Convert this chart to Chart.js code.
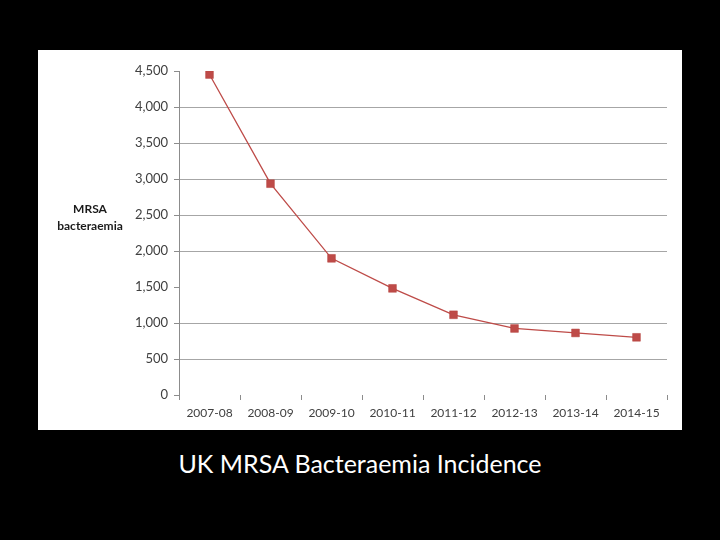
<!DOCTYPE html>
<html>
<head>
<meta charset="utf-8">
<script src="https://cdn.jsdelivr.net/npm/chart.js@4"></script>
<style>
  html, body { margin: 0; padding: 0; background: #000; width: 720px; height: 540px; overflow: hidden; }
  #box { position: absolute; left: 38px; top: 50px; width: 644px; height: 380px; background: #fff; }
  #caption { position: absolute; left: 0; width: 720px; top: 448px; text-align: center;
             color: #fff; font-family: Lato, "Open Sans", sans-serif; font-size: 25px; }
</style>
</head>
<body>
<div id="box"><canvas id="chart" width="644" height="380"></canvas></div>
<div id="caption">UK MRSA Bacteraemia Incidence</div>
<script>
// MRSA bacteraemia cases per financial year
const years = ['2007-08', '2008-09', '2009-10', '2010-11', '2011-12', '2012-13', '2013-14', '2014-15'];
const cases = [4451, 2935, 1898, 1481, 1114, 924, 862, 801];
const yTicks = [0, 500, 1000, 1500, 2000, 2500, 3000, 3500, 4000, 4500];

const font = { family: 'Lato, "Open Sans", sans-serif', size: 12 };

// horizontal title left of the axis
const yTitle = {
    id: 'yTitle',
    afterDraw(chart) {
        const ctx = chart.ctx;
        ctx.save();
        ctx.fillStyle = '#1a1a1a';
        ctx.textAlign = 'center';
        ctx.textBaseline = 'middle';
        ctx.font = 'bold 12px Lato, "Open Sans", sans-serif';
        ctx.fillText('MRSA', 52, 159);
        ctx.fillText('bacteraemia', 52, 176);
        ctx.restore();
    }
};

new Chart(document.getElementById('chart').getContext('2d'), {
    type: 'line',
    data: {
        labels: years,
        datasets: [{
            label: 'MRSA bacteraemia',
            data: cases,
            borderColor: '#be4b48',
            backgroundColor: '#be4b48',
            borderWidth: 1.3,
            pointStyle: 'rect',
            pointRadius: 5.5,
            pointBorderColor: '#b5403d',
            pointBorderWidth: 0.5,
            tension: 0
        }]
    },
    options: {
        responsive: false,
        animation: false,
        layout: { padding: { top: 21, right: 15, left: 0, bottom: 0 } },
        plugins: { legend: { display: false }, tooltip: { enabled: false } },
        scales: {
            x: {
                offset: true,
                grid: { offset: true, drawOnChartArea: false, drawTicks: true, tickLength: 5, color: '#8c8c8c' },
                border: { display: false },
                ticks: { color: '#404040', font: font, padding: 6, maxRotation: 0 },
                afterFit: s => { s.height = 35; }
            },
            y: {
                min: 0,
                max: 4500,
                afterBuildTicks: s => { s.ticks = yTicks.map(v => ({ value: v })); },
                grid: {
                    drawTicks: true,
                    tickLength: 5,
                    tickColor: '#8c8c8c',
                    color: c => (c.tick && (c.tick.value === 0 || c.tick.value === 4500 || c.tick.value === 1500)) ? 'rgba(0,0,0,0)' : '#a6a6a6'
                },
                border: { display: true, color: '#8c8c8c' },
                ticks: { color: '#404040', font: { family: font.family, size: 13 }, padding: 6,
                         callback: v => v.toLocaleString('en-US') },
                afterFit: s => { s.width = 141; }
            }
        }
    },
    plugins: [yTitle]
});
</script>
</body>
</html>
